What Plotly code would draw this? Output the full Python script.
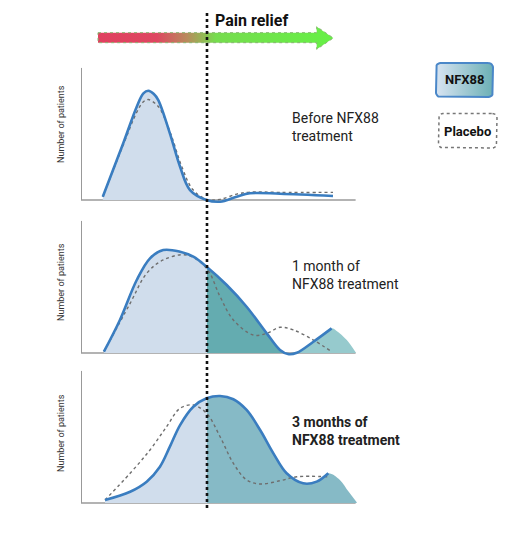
import numpy as np
import plotly.graph_objects as go

# the page body has an 8px margin, so the figure is placed 8px in
OFF = 8
W, H = 510 - OFF, 535 - OFF

# x: pain score (0-100), y: number of patients (0-100)
relief_at = 45.65

before_nfx_x = [7.9, 15.3, 20.2, 22.6, 24.4, 26.4, 28.0, 32.2, 35.9, 39.5, 45.5, 50.4, 56.4, 61.2, 72.1, 91.3]
before_nfx_y = [2.5, 43.3, 71.2, 81.4, 83.4, 80.9, 76.3, 50.9, 25.4, 7.6, 0.0, -1.3, 2.5, 5.1, 4.8, 3.1]
before_pla_x = [7.9, 15.3, 20.2, 22.6, 24.4, 26.8, 28.8, 32.6, 36.6, 40.5, 45.5, 50.4, 56.4, 61.2, 72.1, 91.3]
before_pla_y = [2.5, 42.0, 67.0, 75.0, 76.7, 73.8, 69.0, 50.0, 25.0, 8.0, 0.5, 0.5, 4.5, 6.0, 5.8, 5.8]

m1_nfx_x = [8.3, 14.1, 20.2, 25.0, 29.8, 35.9, 40.7, 45.5, 52.8, 60.0, 67.3, 72.1, 75.0, 78.2, 84.2, 90.8]
m1_nfx_y = [1.0, 25.2, 55.7, 72.3, 78.6, 77.3, 73.5, 65.9, 51.9, 35.3, 15.0, 2.3, -0.8, 0.2, 8.6, 18.8]
m1_tail_x = [92.5, 96.3, 99.5]
m1_tail_y = [17.0, 9.9, 0.5]
m1_pla_x = [8.3, 17.8, 23.8, 29.8, 38.3, 45.5, 50.4, 55.2, 62.4, 67.3, 72.1, 76.9, 84.2, 90.8]
m1_pla_y = [1.0, 37.9, 60.8, 71.0, 74.8, 64.6, 43.0, 25.2, 13.7, 15.0, 19.6, 17.6, 9.9, 1.0]

m3_nfx_x = [8.7, 17.8, 23.8, 28.6, 32.2, 35.9, 40.7, 45.5, 50.4, 55.2, 60.0, 64.9, 69.7, 74.5, 80.5, 85.4, 89.6]
m3_nfx_y = [2.3, 8.6, 16.3, 27.7, 43.0, 59.5, 73.5, 79.9, 81.7, 79.2, 71.0, 55.7, 37.9, 22.7, 15.0, 16.3, 22.7]
m3_tail_x = [93.8, 97.0, 99.9]
m3_tail_y = [17.6, 8.5, 0.5]
m3_pla_x = [8.7, 17.8, 25.0, 31.0, 35.9, 40.7, 45.5, 50.4, 55.2, 60.0, 64.9, 72.1, 78.2, 89.6]
m3_pla_y = [2.3, 22.7, 40.5, 58.2, 72.3, 74.8, 68.5, 50.6, 30.3, 17.6, 14.5, 17.0, 20.0, 20.0]

panel_titles = ["Before NFX88<br>treatment", "1 month of<br>NFX88 treatment",
                "<b>3 months of<br>NFX88 treatment</b>"]

LIGHT = "#d0ddec"
BLUE = "#3a7dc0"
DOT = "#6e6e6e"
FONT = "Roboto"


def fx(p):
    return (p - OFF) / W


def fy(p):
    return 1 - (p - OFF) / H


PX_X0, PX_X1 = 81, 357
YPX = 1.31
bases = [200, 353, 503]
t = relief_at / 100.0

fig = go.Figure()

panels = [
    (before_nfx_x, before_nfx_y, [], [], before_pla_x, before_pla_y,
     [[0, LIGHT], [1, LIGHT]], 11),
    (m1_nfx_x, m1_nfx_y, m1_tail_x, m1_tail_y, m1_pla_x, m1_pla_y,
     [[0, LIGHT], [t, LIGHT], [t, "#64acb0"], [0.76, "#64acb0"], [0.76, "#96cacd"], [1, "#96cacd"]], None),
    (m3_nfx_x, m3_nfx_y, m3_tail_x, m3_tail_y, m3_pla_x, m3_pla_y,
     [[0, LIGHT], [t, LIGHT], [t, "#86bac6"], [1, "#86bac6"]], None),
]

shapes = []
annotations = []
for i, (nx, ny, tx, ty, qx, qy, scale, cut) in enumerate(panels):
    k = "" if i == 0 else str(i + 1)
    xa, ya = "x" + k, "y" + k
    fill_x = (nx[:cut] if cut else nx) + tx
    fill_y = (ny[:cut] if cut else ny) + ty
    fig.add_trace(go.Scatter(
        x=fill_x, y=fill_y, mode="lines", fill="tozeroy",
        line=dict(width=0, shape="spline"),
        fillgradient=dict(type="horizontal", start=0, stop=100, colorscale=scale),
        xaxis=xa, yaxis=ya, showlegend=False, hoverinfo="skip"))
    fig.add_trace(go.Scatter(
        x=qx, y=qy, mode="lines",
        line=dict(color=DOT, width=1.4, dash="dot", shape="spline"),
        xaxis=xa, yaxis=ya, showlegend=False))
    fig.add_trace(go.Scatter(
        x=nx, y=ny, mode="lines",
        line=dict(color=BLUE, width=2.6, shape="spline"),
        xaxis=xa, yaxis=ya, showlegend=False))

    base = bases[i]
    lay = dict(domain=[fy(base + 5 * YPX), fy(base - 101 * YPX)], range=[-5, 101],
               visible=False, anchor=xa)
    fig.update_layout(**{"yaxis" + k: lay,
                         "xaxis" + k: dict(domain=[fx(PX_X0), fx(PX_X1)], range=[0, 100],
                                           visible=False, anchor=ya)})
    shapes.append(dict(type="line", xref=xa, yref=ya, x0=0, x1=0, y0=0, y1=101,
                       line=dict(color="#555555", width=1.2), layer="below"))
    shapes.append(dict(type="line", xref=xa, yref=ya, x0=0, x1=99.5, y0=0, y1=0,
                       line=dict(color="#9a9a9a", width=1.6), layer="below"))
    annotations.append(dict(text="Number of patients", xref="paper", yref="paper",
                            x=fx(61), y=fy([124, 282, 433][i]), textangle=-90,
                            xanchor="center", yanchor="middle", showarrow=False,
                            font=dict(family=FONT, size=9, color="#333333")))
    annotations.append(dict(text=panel_titles[i], xref="paper", yref="paper",
                            x=fx(290), y=fy([127, 275, 430.5][i]), xanchor="left",
                            yanchor="middle", align="left", showarrow=False,
                            font=dict(family=FONT, size=14, color="#222222")))

# overlay in reference-pixel units for the arrow and the key boxes
fig.update_layout(
    xaxis4=dict(domain=[0, 1], range=[OFF, OFF + W], visible=False, anchor="y4"),
    yaxis4=dict(domain=[0, 1], range=[OFF + H, OFF], visible=False, anchor="x4"),
)

arrow_x = [98, 316.7, 316.7, 333.3, 316.7, 316.7, 98, 98]
arrow_y = [32.7, 32.7, 26.7, 38, 49.3, 42.7, 42.7, 32.7]
fig.add_trace(go.Scatter(
    x=arrow_x, y=arrow_y, mode="lines", fill="toself",
    line=dict(color="#86b46e", width=1, dash="dot"),
    fillgradient=dict(type="horizontal", start=98, stop=333,
                      colorscale=[[0, "#e0405f"], [0.25, "#de4760"], [0.38, "#b88c5c"],
                                  [0.5, "#76dc4e"], [1, "#66f046"]]),
    xaxis="x4", yaxis="y4", showlegend=False, hoverinfo="skip"))


def rounded_box(x0, y0, x1, y1, r):
    a = np.linspace(0, np.pi / 2, 7)
    xs, ys = [], []
    for cx, cy, a0 in [(x1 - r, y0 + r, -np.pi / 2), (x1 - r, y1 - r, 0),
                       (x0 + r, y1 - r, np.pi / 2), (x0 + r, y0 + r, np.pi)]:
        xs += list(cx + r * np.cos(a0 + a))
        ys += list(cy + r * np.sin(a0 + a))
    return xs + xs[:1], ys + ys[:1]


bx, by = rounded_box(436, 63, 493, 97, 4.5)
fig.add_trace(go.Scatter(
    x=bx, y=by, mode="lines", fill="toself",
    line=dict(color="#4a87c8", width=2),
    fillgradient=dict(type="horizontal", start=436, stop=493,
                      colorscale=[[0, "#d8e4f2"], [1, "#6cb0b5"]]),
    xaxis="x4", yaxis="y4", showlegend=False, hoverinfo="skip"))
px_, py_ = rounded_box(438.5, 113.5, 497, 148, 4.5)
fig.add_trace(go.Scatter(
    x=px_, y=py_, mode="lines", fill="toself", fillcolor="white",
    line=dict(color="#777777", width=1.5, dash="dot"),
    xaxis="x4", yaxis="y4", showlegend=False, hoverinfo="skip"))

annotations += [
    dict(text="<b>NFX88</b>", xref="paper", yref="paper", x=fx(464.5), y=fy(80),
         xanchor="center", yanchor="middle", showarrow=False,
         font=dict(family=FONT, size=13, color="#111111")),
    dict(text="<b>Placebo</b>", xref="paper", yref="paper", x=fx(467.8), y=fy(131),
         xanchor="center", yanchor="middle", showarrow=False,
         font=dict(family=FONT, size=13, color="#111111")),
    dict(text="<b>Pain relief</b>", xref="paper", yref="paper", x=fx(213), y=fy(20),
         xanchor="left", yanchor="middle", showarrow=False,
         font=dict(family=FONT, size=16, color="#111111")),
]

relief_px = PX_X0 + relief_at * (PX_X1 - PX_X0) / 100
shapes.append(dict(type="line", xref="paper", yref="paper",
                   x0=fx(relief_px), x1=fx(relief_px), y0=fy(13), y1=fy(508),
                   line=dict(color="#111111", width=2.6, dash="dot"), layer="above"))

fig.update_layout(
    width=W, height=H,
    margin=dict(l=0, r=0, t=0, b=0),
    paper_bgcolor="white", plot_bgcolor="rgba(0,0,0,0)",
    shapes=shapes, annotations=annotations,
    showlegend=False,
)

fig.write_html("out.html")
